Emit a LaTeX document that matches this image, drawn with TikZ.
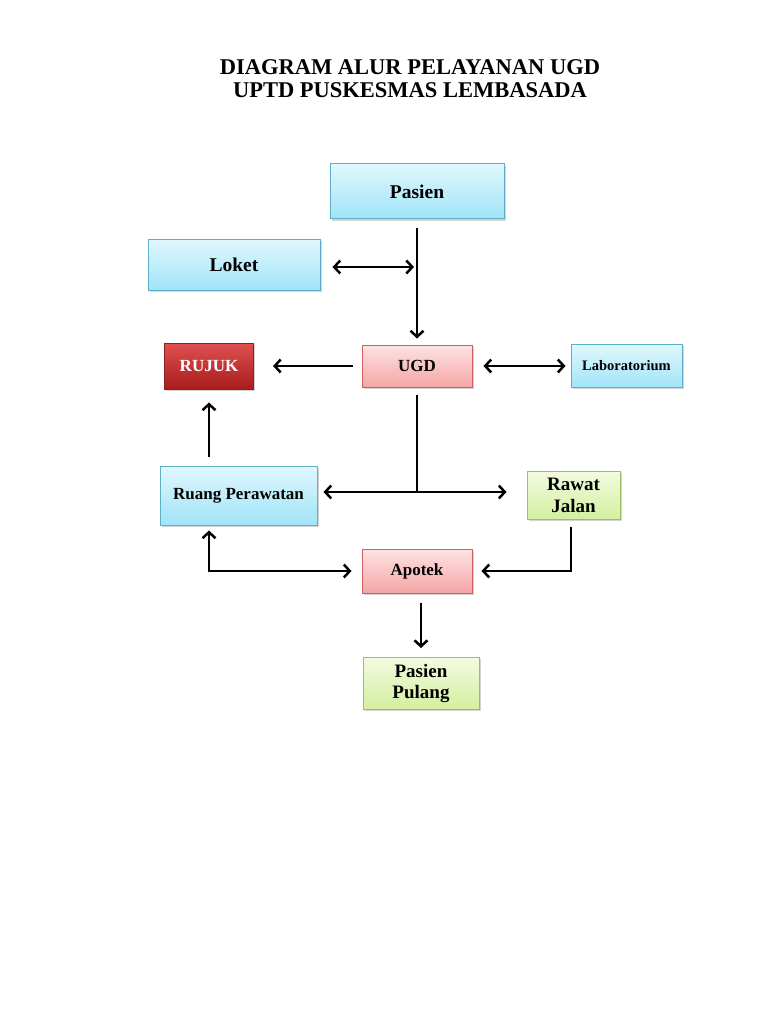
\documentclass[tikz,border=0pt]{standalone}
\usepackage{fontspec}
\setmainfont{Liberation Serif}
\usetikzlibrary{arrows.meta,shadows,positioning,calc}

\definecolor{biruatas}{HTML}{E0F7FD}
\definecolor{birubawah}{HTML}{A0E4F8}
\definecolor{birugaris}{HTML}{5FAFC8}
\definecolor{merahmudaatas}{HTML}{FDE3E3}
\definecolor{merahmudabawah}{HTML}{F5A5A5}
\definecolor{merahmudagaris}{HTML}{D06060}
\definecolor{hijauatas}{HTML}{F3FBE0}
\definecolor{hijaubawah}{HTML}{D3EFA0}
\definecolor{hijaugaris}{HTML}{9EBE60}
\definecolor{merahatas}{HTML}{E05050}
\definecolor{merahbawah}{HTML}{A81C1C}
\definecolor{merahgaris}{HTML}{8A2020}

\tikzset{
  kotak/.style={draw,line width=1pt,align=center,inner sep=0pt,
    drop shadow={opacity=0.35,shadow xshift=1.8pt,shadow yshift=-1.8pt}},
  biru/.style={kotak,draw=birugaris,top color=biruatas,bottom color=birubawah},
  merahmuda/.style={kotak,draw=merahmudagaris,top color=merahmudaatas,bottom color=merahmudabawah},
  hijau/.style={kotak,draw=hijaugaris,top color=hijauatas,bottom color=hijaubawah},
  merah/.style={kotak,draw=merahgaris,top color=merahatas,bottom color=merahbawah,text=white},
  teks/.style={font=\fontsize{#1}{21.5}\selectfont\bfseries},
  panah/.style={line width=2.5pt,-{Straight Barb[length=6pt,width=13pt]}},
  dua/.style={line width=2.5pt,{Straight Barb[length=6pt,width=13pt]}-{Straight Barb[length=6pt,width=13pt]}}
}

\begin{document}
\begin{tikzpicture}[x=1pt,y=-1pt]
    \useasboundingbox (0,0) rectangle (768,1024);
    \node[align=center,font=\fontsize{22.5}{23}\selectfont\bfseries](judul) at (410,79)
        {DIAGRAM ALUR PELAYANAN UGD\\UPTD PUSKESMAS LEMBASADA};
    \node[biru,teks=19.5,minimum width=174pt,minimum height=55pt](pasien) at (417,191.5){Pasien};
    \node[biru,teks=19.5,minimum width=172pt,minimum height=51pt](loket) at (234,264.5){Loket};
    \node[merahmuda,teks=17,minimum width=110pt,minimum height=42pt](ugd) at (417,366){UGD};
    \node[merah,teks=17,minimum width=89pt,minimum height=46pt](rujuk) at (209,366){RUJUK};
    \node[biru,teks=14.5,minimum width=111pt,minimum height=43pt](lab) at (626.5,366){Laboratorium};
    \node[biru,teks=17,minimum width=157pt,minimum height=59pt](ruang) at (238.5,495.5){Ruang Perawatan};
    \node[hijau,teks=19,minimum width=93pt,minimum height=48pt](rawat) at (573.5,495.5){Rawat\\Jalan};
    \node[merahmuda,teks=17,minimum width=110pt,minimum height=44pt](apotek) at (417,571){Apotek};
    \node[hijau,teks=19,minimum width=116pt,minimum height=52pt](pulang) at (421,683.5){Pasien\\Pulang};
    \coordinate(j1) at (417,267);
    \coordinate(j2) at (417,492);
    \coordinate(k1) at (209,571);
    \coordinate(k2) at (571,571);
    \draw[panah,shorten <=9pt,shorten >=6pt](pasien)--(ugd);
    \draw[dua,shorten <=12pt,shorten >=3pt](loket.east|-j1)--(j1);
    \draw[panah,shorten <=9pt,shorten >=19pt](ugd.west)--(rujuk.east);
    \draw[dua,shorten <=11pt,shorten >=5pt](ugd.east)--(lab.west);
    \draw[line width=2.5pt,shorten <=7pt](ugd.south)--(j2);
    \draw[dua,shorten <=6pt,shorten >=20pt](ruang.east|-j2)--(rawat.west|-j2);
    \draw[panah,shorten <=9pt,shorten >=13pt](ruang.north-|rujuk.south)--(rujuk.south);
    \draw[dua,shorten <=5pt,shorten >=10pt](ruang.south-|k1)--(k1)--(apotek.west);
    \draw[panah,shorten <=7pt,shorten >=9pt](rawat.south-|k2)--(k2)--(apotek.east);
    \draw[panah,shorten <=9pt,shorten >=9pt](apotek.south-|pulang.north)--(pulang.north);
\end{tikzpicture}
\end{document}
